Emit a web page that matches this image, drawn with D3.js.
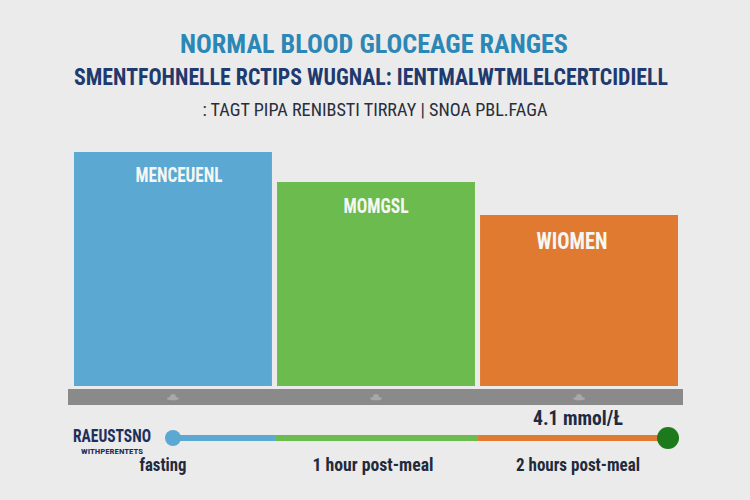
<!DOCTYPE html>
<html><head><meta charset="utf-8">
<script src="https://cdn.jsdelivr.net/npm/d3@7"></script>
<style>body{margin:0;background:#ebebeb}svg{display:block}</style>
</head><body>
<svg id="c" width="750" height="500"></svg>
<script>
const categories = ["fasting", "1 hour post-meal", "2 hours post-meal"];
const barLabels = ["MENCEUENL", "MOMGSL", "WIOMEN"];
const values = [7.8, 6.8, 5.7];
const colors = ["#5ba8d2", "#6cbb4f", "#e07a31"];
const title = "NORMAL BLOOD GLOCEAGE RANGES";
const subtitle = "SMENTFOHNELLE RCTIPS WUGNAL:  IENTMALWTMLELCERTCIDIELL";
const subtitle2 = ": TAGT PIPA RENIBSTI TIRRAY  | SNOA PBL.FAGA";
const markerLabel = "4.1 mmol/Ł";
const sideLabel = "RAEUSTSNO";
const sideSub = "WITHPERENTETS";

const svg = d3.select("#c");
svg.append("rect").attr("width",750).attr("height",500).attr("fill","#ebebeb");
const F = "'Liberation Sans Narrow','Roboto Condensed','Roboto','Liberation Sans',Arial,sans-serif";

function txt(t, x, y, size, color, w, weight="bold", anchor="middle"){
  const e = svg.append("text").attr("x",x).attr("y",y).attr("font-family",F)
    .attr("font-size",size).attr("font-weight",weight).attr("fill",color)
    .attr("text-anchor",anchor).attr("dominant-baseline","central").text(t);
  if (w) e.attr("textLength", w).attr("lengthAdjust","spacingAndGlyphs");
  return e;
}
txt(title, 374, 44, 26, "#2b87b5", 388);
txt(subtitle, 371, 77, 24, "#1e3a6e", 594);
txt(subtitle2, 375, 109, 18, "#2a2d3c", 345, "normal");

const x = d3.scaleBand().domain(categories).range([74, 678]).paddingInner(0.025);
const y = d3.scaleLinear().domain([0, 8]).range([386, 146]);

categories.forEach((c,i)=>{
  svg.append("rect").attr("x", x(c)).attr("y", y(values[i]))
    .attr("width", x.bandwidth()).attr("height", y(0)-y(values[i]))
    .attr("fill", colors[i]);
});
const lblY = [175, 206, 241];
const lblW = [87, 65, 71];
const lblS = [20, 20, 23];
const lblDx = [6, 0, -7];
categories.forEach((c,i)=>{
  txt(barLabels[i], x(c)+x.bandwidth()/2 + lblDx[i], lblY[i], lblS[i], "#f4f7f4", lblW[i]);
});

// gray baseline band
svg.append("rect").attr("x",68).attr("y",389).attr("width",615).attr("height",16).attr("fill","#8a8a8a");
categories.forEach(c=>{
  const cx = x(c)+x.bandwidth()/2;
  const g = svg.append("g").attr("fill","#a8a8a8");
  g.append("circle").attr("cx",cx).attr("cy",397).attr("r",3);
  g.append("ellipse").attr("cx",cx).attr("cy",398.5).attr("rx",6).attr("ry",1.8);
});

// timeline
const tStart = x(categories[0])+x.bandwidth()/2;
const tEnd = 668;
const bounds = [tStart, x(categories[1]) - 2, x(categories[2]) - 2, tEnd];
categories.forEach((c,i)=>{
  svg.append("line").attr("x1",bounds[i]).attr("x2",bounds[i+1]).attr("y1",438).attr("y2",438)
    .attr("stroke",colors[i]).attr("stroke-width",6);
});
svg.append("circle").attr("cx",tStart).attr("cy",438).attr("r",8).attr("fill","#5ba8d2");
svg.append("circle").attr("cx",tEnd).attr("cy",438).attr("r",11).attr("fill","#1c7a1c");

txt(markerLabel, 578, 418, 20, "#1f2a44", 90);
txt(sideLabel, 112, 435, 18, "#1e2f5c", 78);
txt(sideSub, 112, 451, 8, "#1e2f5c", 62);

const labelOffsets = [-10, -3, -1];
const labelW = [47, 121, 124];
categories.forEach((c,i)=>{
  txt(c, x(c)+x.bandwidth()/2 + labelOffsets[i], 464, 19, "#222a3a", labelW[i]);
});
</script>
</body></html>
